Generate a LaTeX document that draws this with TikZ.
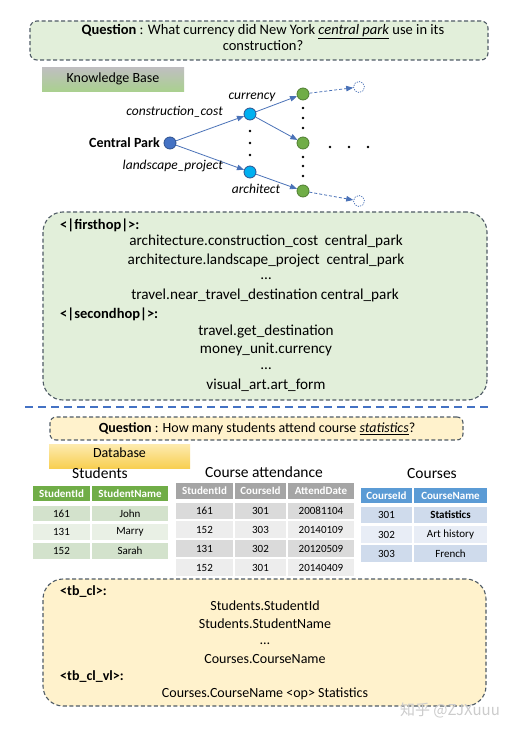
\documentclass[tikz,border=0pt]{standalone}
\usepackage{fontspec}
\setmainfont{Carlito}
\newfontfamily\cjkfont{Noto Sans CJK SC}
\usetikzlibrary{arrows.meta,shapes.geometric}
\definecolor{gfill}{HTML}{E2EFDA}
\definecolor{yfill}{HTML}{FFF2CC}
\definecolor{bordc}{HTML}{4F5B66}
\definecolor{sepblue}{HTML}{4472C4}
\definecolor{arrblue}{HTML}{4A72B8}
\definecolor{cpblue}{HTML}{4472C4}
\definecolor{cpdark}{HTML}{2F528F}
\definecolor{ltblue}{HTML}{00B0F0}
\definecolor{nodegreen}{HTML}{70AD47}
\definecolor{greendark}{HTML}{507E32}
\definecolor{stuhead}{HTML}{70AD47}
\definecolor{stuA}{HTML}{D3E2CC}
\definecolor{stuB}{HTML}{E9F0E5}
\definecolor{atthead}{HTML}{A5A5A5}
\definecolor{attA}{HTML}{DADADA}
\definecolor{attB}{HTML}{EDEDED}
\definecolor{crshead}{HTML}{5B9BD5}
\definecolor{crsA}{HTML}{CFDBEC}
\definecolor{crsB}{HTML}{E8EDF6}
\definecolor{dbtop}{HTML}{FDEBB0}
\definecolor{dbbot}{HTML}{F8CF52}
\definecolor{kbtop}{HTML}{BFBFBF}
\definecolor{kbbot}{HTML}{A9D18E}
\newcommand{\hd}[1]{\textcolor{white}{\bfseries #1}}
\newcommand{\tcell}[7]{%
  \node[cellbox, fill=#6, minimum width={#4-#2}, minimum height={#5-#3}] (#1) at ({(#2+#4)/2},{(#3+#5)/2}) {#7};}
\tikzset{
  dbox/.style={draw=bordc, dash pattern=on 4pt off 2.5pt, line width=1.1pt, inner sep=0},
  txt/.style={font=\fontsize{14}{16}\selectfont, inner sep=0, anchor=mid},
  qtxt/.style={font=\fontsize{14.5}{16}\selectfont, inner sep=0, anchor=mid},
  htxt/.style={font=\fontsize{15.2}{17}\selectfont, inner sep=0, anchor=mid},
  lab/.style={font=\fontsize{13.5}{16}\selectfont\itshape, inner sep=0, anchor=mid},
  ttl/.style={font=\fontsize{15.5}{18}\selectfont, inner sep=0, anchor=mid},
  cellbox/.style={rectangle, inner sep=0, font=\fontsize{11}{13}\selectfont},
  circ/.style={circle, minimum size=12pt, inner sep=0, line width=0.8pt},
  ghost/.style={circle, minimum size=11pt, inner sep=0, draw=arrblue, dash pattern=on 1.2pt off 1.2pt, line width=0.7pt, fill=white},
  arr/.style={draw=arrblue, line width=0.8pt, -{Triangle[length=7pt,width=5.5pt]}},
  darr/.style={arr, dash pattern=on 3pt off 2pt},
  sepline/.style={draw=sepblue, line width=2pt, dash pattern=on 8pt off 5pt}
}
\begin{document}
\begin{tikzpicture}[x=1pt,y=-1pt]
\useasboundingbox (0,0) rectangle (515,735);
\fill[white] (0,0) rectangle (515,735);

% ---- Question 1
\node[dbox, fill=gfill, rounded corners=7pt, minimum width=458, minimum height=39] (q1) at (259,40.5) {};
\node[qtxt] (q1a) at (263,32) {\textbf{Question} : What currency did New York \underline{\textit{central park}} use in its};
\node[qtxt] (q1b) at (263,48) {construction?};

% ---- Knowledge base label
\node[inner sep=0, minimum width=142, minimum height=24, top color=kbtop, middle color=white!96!gray, bottom color=kbbot] (kb) at (113,80) {};
\node[txt] (kbt) at (113,80) {Knowledge Base};

% ---- graph
\node[circ, fill=cpblue, draw=cpdark] (cp) at (170,143) {};
\node[circ, fill=ltblue, draw=cpdark] (b1) at (250,114) {};
\node[circ, fill=ltblue, draw=cpdark] (b2) at (250,172) {};
\node[circ, fill=nodegreen, draw=greendark] (g1) at (303,94) {};
\node[circ, fill=nodegreen, draw=greendark] (g2) at (303,143) {};
\node[circ, fill=nodegreen, draw=greendark] (g3) at (303,191) {};
\node[ghost] (d1) at (359,87) {};
\node[ghost] (d2) at (359,201) {};
\draw[arr] (cp) -- (b1);
\draw[arr] (cp) -- (b2);
\draw[arr] (b1) -- (g1);
\draw[arr] (b1) -- (g2);
\draw[arr] (b2) -- (g3);
\draw[darr] (g1) -- (d1);
\draw[darr] (g3) -- (d2);
\foreach \yy in {131,143,155} \fill (250,\yy) circle (1.3);
\foreach \yy in {108,118,128,157,166,176} \fill (303,\yy) circle (1.3);
\foreach \xx in {330,349,368} \fill (\xx,147) circle (1.3);
\node[txt, anchor=mid east] (cpl) at (160,145) {\textbf{Central Park}};
\node[lab] (lcur) at (252,97) {currency};
\node[lab, anchor=mid east] (lcc) at (223,113) {construction\_cost};
\node[lab, anchor=mid east] (llp) at (223,167) {landscape\_project};
\node[lab] (larc) at (256,191) {architect};

% ---- hop box
\node[dbox, fill=gfill, rounded corners=20pt, minimum width=444, minimum height=188] (hop) at (265,306) {};
\node[qtxt, anchor=mid west] (fh) at (60,227) {\textbf{<|firsthop|>:}};
\node[htxt] (h1) at (266,243) {architecture.construction\_cost\ \ central\_park};
\node[htxt] (h2) at (266,262) {architecture.landscape\_project\ \ central\_park};
\node[htxt] (h3) at (266,277) {…};
\node[htxt] (h4) at (265,297) {travel.near\_travel\_destination central\_park};
\node[qtxt, anchor=mid west] (sh) at (60,316) {\textbf{<|secondhop|>:}};
\node[htxt] (h5) at (266,333) {travel.get\_destination};
\node[htxt] (h6) at (266,351) {money\_unit.currency};
\node[htxt] (h7) at (266,367) {…};
\node[htxt] (h8) at (266,387) {visual\_art.art\_form};

% ---- separator
\coordinate (sepL) at (25,407);
\coordinate (sepR) at (492,407);
\draw[sepline] (sepL) -- (sepR);

% ---- Question 2
\node[dbox, fill=yfill, rounded corners=6pt, minimum width=413, minimum height=23] (q2) at (256.5,428.5) {};
\node[txt] (q2t) at (257,430) {\textbf{Question} : How many students attend course \underline{\textit{statistics}}?};

% ---- Database label
\node[inner sep=0, minimum width=141, minimum height=24, top color=dbtop, bottom color=dbbot] (db) at (119.5,456) {};
\node[txt] (dbt) at (119.5,455) {Database};

% ---- table titles
\node[ttl] (tstu) at (100,476) {Students};
\node[ttl] (tatt) at (264,475) {Course attendance};
\node[ttl] (tcrs) at (432,476) {Courses};

% ---- Students table
\tcell{sh1}{33}{486}{90}{501}{stuhead}{\hd{StudentId}}
\tcell{sh2}{92}{486}{168}{501}{stuhead}{\hd{StudentName}}
\tcell{s11}{33}{506}{90}{521}{stuA}{161}
\tcell{s12}{92}{506}{168}{521}{stuA}{John}
\tcell{s21}{33}{524}{90}{540}{stuB}{131}
\tcell{s22}{92}{524}{168}{540}{stuB}{Marry}
\tcell{s31}{33}{543}{90}{559}{stuA}{152}
\tcell{s32}{92}{543}{168}{559}{stuA}{Sarah}

% ---- Attendance table
\tcell{ah1}{176}{483}{233}{499}{atthead}{\hd{StudentId}}
\tcell{ah2}{235}{483}{286}{499}{atthead}{\hd{CourseId}}
\tcell{ah3}{288}{483}{354}{499}{atthead}{\hd{AttendDate}}
\tcell{a11}{176}{503}{233}{519}{attA}{161}
\tcell{a12}{235}{503}{286}{519}{attA}{301}
\tcell{a13}{288}{503}{354}{519}{attA}{20081104}
\tcell{a21}{176}{521}{233}{538}{attB}{152}
\tcell{a22}{235}{521}{286}{538}{attB}{303}
\tcell{a23}{288}{521}{354}{538}{attB}{20140109}
\tcell{a31}{176}{540}{233}{557}{attA}{131}
\tcell{a32}{235}{540}{286}{557}{attA}{302}
\tcell{a33}{288}{540}{354}{557}{attA}{20120509}
\tcell{a41}{176}{559}{233}{576}{attB}{152}
\tcell{a42}{235}{559}{286}{576}{attB}{301}
\tcell{a43}{288}{559}{354}{576}{attB}{20140409}

% ---- Courses table
\tcell{ch1}{361}{488}{412}{503}{crshead}{\hd{CourseId}}
\tcell{ch2}{414}{488}{487}{503}{crshead}{\hd{CourseName}}
\tcell{c11}{361}{507}{412}{523}{crsA}{301}
\tcell{c12}{414}{507}{487}{523}{crsA}{\textbf{Statistics}}
\tcell{c21}{361}{526}{412}{543}{crsB}{302}
\tcell{c22}{414}{526}{487}{543}{crsB}{Art history}
\tcell{c31}{361}{545}{412}{562}{crsA}{303}
\tcell{c32}{414}{545}{487}{562}{crsA}{French}

% ---- bottom box
\node[dbox, fill=yfill, rounded corners=20pt, minimum width=443, minimum height=127] (tb) at (264.5,642.5) {};
\node[txt, anchor=mid west] (tbcl) at (60,593) {\textbf{<tb\_cl>:}};
\node[txt] (t1) at (265,608) {Students.StudentId};
\node[txt] (t2) at (265,626) {Students.StudentName};
\node[txt] (t3) at (265,642) {…};
\node[txt] (t4) at (265,661) {Courses.CourseName};
\node[txt, anchor=mid west] (tbcv) at (60,678) {\textbf{<tb\_cl\_vl>:}};
\node[txt] (t5) at (265,695) {Courses.CourseName <op> Statistics};

% ---- watermark
\node[inner sep=0, anchor=mid, text=gray!40, font=\cjkfont\fontsize{15}{17}\selectfont] (wm) at (450,713) {知乎 @ZJXuuu};
\end{tikzpicture}
\end{document}
